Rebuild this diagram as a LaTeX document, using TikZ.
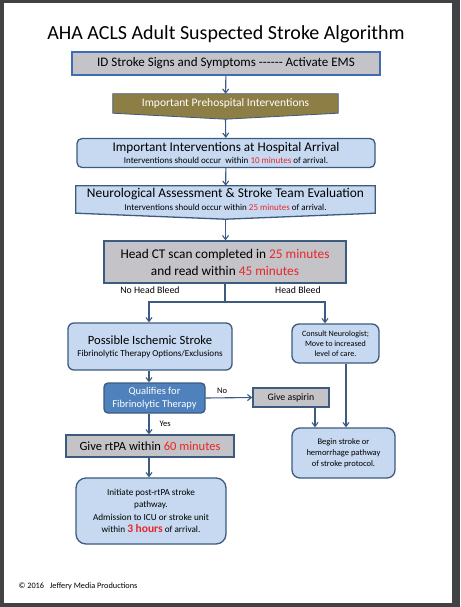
\documentclass[tikz,border=0pt]{standalone}
\usepackage{fontspec}
\setmainfont{Carlito}
\usetikzlibrary{arrows.meta, positioning, calc, backgrounds}
\definecolor{frame}{HTML}{404244}
\definecolor{paleblue}{HTML}{C6D9F1}
\definecolor{edgeblue}{HTML}{3D5A80}
\definecolor{brightblue}{HTML}{3E6DB5}
\definecolor{midblue}{HTML}{4F81BD}
\definecolor{boxgray}{HTML}{C3C3C8}
\definecolor{olive}{HTML}{8C7E45}
\definecolor{alert}{HTML}{E8262A}
\newcommand{\fsz}[2]{\fontsize{#1}{#2}\selectfont}
\newcommand{\hot}[1]{\textcolor{alert}{#1}}
\tikzset{
    graystep/.style={
        rectangle,
        draw=brightblue,
        line width=1.3pt,
        fill=boxgray,
        inner sep=0pt,
        align=center
    },
    bluestep/.style={
        rectangle,
        rounded corners=5pt,
        draw=edgeblue,
        line width=1.3pt,
        fill=paleblue,
        inner sep=0pt,
        align=center
    },
    chevron/.style={
        rectangle,
        inner sep=0pt,
        align=center
    },
    decision/.style={
        rectangle,
        rounded corners=4pt,
        draw=edgeblue,
        line width=1.3pt,
        fill=midblue,
        text=white,
        inner sep=0pt,
        align=center,
        font=\fsz{10.5}{12.5}
    },
    flow/.style={
        draw=edgeblue,
        line width=1.1pt,
        -{Straight Barb[length=4pt,width=6pt]}
    },
    plainline/.style={
        draw=edgeblue,
        line width=1.1pt
    },
    tag/.style={
        inner sep=1pt
    }
}
\begin{document}
\begin{tikzpicture}[x=1pt, y=-1pt]

% Page and viewer frame
\begin{scope}[on background layer]
\fill[frame] (0,0) rectangle (460,607);
\fill[white] (4,3) rectangle (452,603);
\end{scope}
\useasboundingbox (0,0) rectangle (460,607);

% Title
\node[font=\fsz{20}{22}] (title) at (226,34) {AHA ACLS Adult Suspected Stroke Algorithm};

% Main column
\node[graystep, minimum width=308pt, minimum height=23pt, font=\fsz{13}{15}] (ems) at (226,63.5)
    {ID Stroke Signs and Symptoms {-}{-}{-}{-}{-}{-} Activate EMS};
\node[chevron, minimum width=225pt, minimum height=19pt, text=white, font=\fsz{11.5}{13}] (prehosp) at (225.5,103.5)
    {Important Prehospital Interventions};
\node[bluestep, minimum width=298pt, minimum height=29pt] (arrival) at (226,153)
    {{\fsz{13.2}{14}Important Interventions at Hospital Arrival}\\[0.5pt]
     {\fsz{9}{10}Interventions should occur\ \ within \hot{10 minutes} of arrival.}};
\node[chevron, minimum width=299pt, minimum height=27pt] (neuro) at (225.5,199.5)
    {{\fsz{13.4}{14}Neurological Assessment \& Stroke Team Evaluation}\\[0.5pt]
     {\fsz{9}{10}Interventions should occur within \hot{25 minutes} of arrival.}};
\node[graystep, draw=edgeblue, minimum width=242pt, minimum height=42pt, font=\fsz{13.3}{17}] (headct) at (225,262)
    {Head CT scan completed in \hot{25 minutes}\\and read within \hot{45 minutes}};

% Chevron outlines
\begin{scope}[on background layer]
\draw[fill=olive, draw=edgeblue, line width=0.8pt]
    (prehosp.north west) -- (prehosp.north east) -- (prehosp.south east)
    -- ($(prehosp.south)+(0,6)$) -- (prehosp.south west) -- cycle;
\draw[fill=paleblue, draw=edgeblue, line width=1.3pt]
    (neuro.north west) -- (neuro.north east) -- (neuro.south east)
    -- ($(neuro.south)+(0,6)$) -- (neuro.south west) -- cycle;
\end{scope}

% Branch columns
\coordinate (lcol) at (149,302);
\coordinate (rcol) at (325,302);
\coordinate (split) at (225,302);

% Left branch
\node[bluestep, rounded corners=6pt, minimum width=164pt, minimum height=47pt] (ischemic) at (150,346.5)
    {{\fsz{12.6}{14}Possible Ischemic Stroke}\\
     {\fsz{9.1}{10}Fibrinolytic Therapy Options/Exclusions}};
\node[decision, minimum width=101pt, minimum height=30pt] (qualify) at (154.5,398)
    {Qualifies for\\Fibrinolytic Therapy};
\node[graystep, draw=edgeblue, minimum width=168pt, minimum height=22pt, font=\fsz{12.5}{14}] (rtpa) at (150,446)
    {Give rtPA within \hot{60 minutes}};
\node[bluestep, rounded corners=10pt, minimum width=150pt, minimum height=66pt, font=\fsz{9.2}{12.5}] (postrtpa) at (151,511)
    {Initiate post-rtPA stroke\\pathway.\\Admission to ICU or stroke unit\\
     within {\fsz{11.5}{14}\bfseries\hot{3 hours}} of arrival.};

% Right branch
\node[bluestep, rounded corners=7pt, minimum width=87pt, minimum height=39pt, font=\fsz{8.1}{10}] (consult) at (335.5,343.5)
    {Consult Neurologist;\\Move to increased\\level of care.};
\node[graystep, draw=edgeblue, minimum width=76pt, minimum height=19pt, font=\fsz{9.8}{11}] (aspirin) at (291,397.5)
    {Give aspirin};
\node[bluestep, rounded corners=8pt, minimum width=103pt, minimum height=50pt, font=\fsz{8.5}{11}] (protocol) at (343.5,453)
    {Begin stroke or\\hemorrhage pathway\\of stroke protocol.};

% Main connections
\draw[flow] (ems) -- (prehosp);
\draw[flow] ($(prehosp.south)+(0,6)$) -- (arrival);
\draw[flow] (arrival) -- (neuro);
\draw[flow] ($(neuro.south)+(0,6)$) -- (headct.north -| neuro.south);
\draw[plainline] (headct.south -| split) -- (split);
\draw[flow] (split) -- (lcol) -- (ischemic.north -| lcol);
\draw[flow] (split) -- (rcol) -- (consult.north -| rcol);

% Branch labels
\node[tag, font=\fsz{9.8}{11}] (nobleed) at (150,290) {No Head Bleed};
\node[tag, font=\fsz{9.8}{11}] (bleed) at (298,290) {Head Bleed};

% Left branch connections
\draw[flow] (ischemic.south -| lcol) -- (qualify.north -| lcol);
\draw[flow] (qualify.south -| lcol) -- node[tag, right=9pt, font=\fsz{8.5}{10}] {Yes} (rtpa.north -| lcol);
\draw[flow] (rtpa.south -| lcol) -- (postrtpa.north -| lcol);
\draw[flow] (qualify.east) -- node[tag, above=3pt, pos=0.35, font=\fsz{8.5}{10}] {No} (aspirin.west);

% Right branch connections
\draw[flow] (aspirin.south -| 315,0) -- (protocol.north -| 315,0);
\draw[flow] (consult.south -| 346,0) -- (protocol.north -| 346,0);

% Footer
\node[anchor=west, font=\fsz{8.3}{9}] (credit) at (15,586) {\textcopyright\ 2016\ \ \ Jeffery Media Productions};

\end{tikzpicture}
\end{document}
